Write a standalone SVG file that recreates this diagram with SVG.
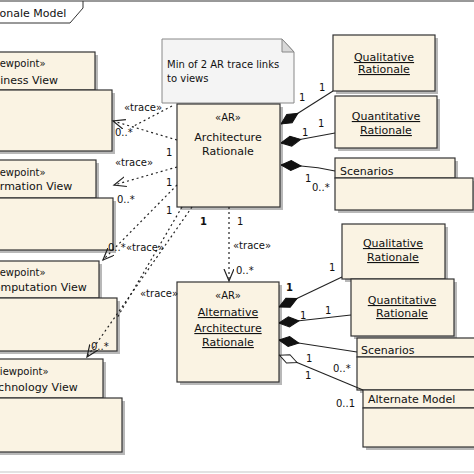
<svg xmlns="http://www.w3.org/2000/svg" width="474" height="474" viewBox="0 0 474 474">
<style>
.box{fill:#faf3e3;stroke:#333;stroke-width:1.2}
.sh{fill:#b8b8b8}
.t{font-family:"DejaVu Sans",sans-serif;fill:#111}
.st{font-size:10px}
.nm{font-size:11px}
.u{text-decoration:underline}
.c{text-anchor:middle}
.lb{font-family:"DejaVu Sans",sans-serif;font-size:10px;fill:#111}
.b{font-weight:bold}
.tr{fill:none;stroke:#222;stroke-width:1.2;stroke-dasharray:2 3}
.ln{fill:none;stroke:#222;stroke-width:1.1}
</style>
<defs>
<marker id="arr" markerUnits="userSpaceOnUse" markerWidth="14" markerHeight="12" refX="12" refY="5" orient="auto" viewBox="0 0 14 12">
<path d="M0,0 L12,5 L0,10" fill="none" stroke="#222" stroke-width="1.2"/>
</marker>
<marker id="dia" markerUnits="userSpaceOnUse" markerWidth="22" markerHeight="12" refX="0" refY="6" orient="auto" viewBox="0 0 22 12">
<path d="M0,6 L10,1 L20,6 L10,11 Z" fill="#111" stroke="#111"/>
</marker>
<marker id="odia" markerUnits="userSpaceOnUse" markerWidth="22" markerHeight="12" refX="0" refY="6" orient="auto" viewBox="0 0 22 12">
<path d="M0.5,6 L10,1.5 L19.5,6 L10,10.5 Z" fill="#fff" stroke="#222"/>
</marker>
</defs>
<rect width="474" height="474" fill="#fff"/>
<g id="frame">
<line x1="0" y1="1" x2="474" y2="1" stroke="#333"/>
<polyline points="0,23 70,23 83,8 83,1" fill="none" stroke="#333"/>
<text class="t nm" x="-22" y="17">Rationale Model</text>
<line x1="0" y1="472" x2="474" y2="472" stroke="#e2e2e2" stroke-width="2"/>
</g>
<g id="business-view">
<rect class="sh" x="-37" y="55" width="135" height="38"/>
<rect class="box" x="-40" y="52" width="135" height="38"/>
<rect class="sh" x="-37" y="93" width="152" height="61"/>
<rect class="box" x="-40" y="90" width="152" height="61"/>
<text class="t st" x="-15" y="67">«viewpoint»</text>
<text class="t nm" x="-20" y="84">Business View</text>
</g>
<g id="information-view">
<rect class="sh" x="-37" y="163" width="136" height="38"/>
<rect class="box" x="-40" y="160" width="136" height="38"/>
<rect class="sh" x="-37" y="201" width="153" height="52"/>
<rect class="box" x="-40" y="198" width="153" height="52"/>
<text class="t st" x="-15" y="176">«viewpoint»</text>
<text class="t nm" x="-21" y="190">Information View</text>
</g>
<g id="computation-view">
<rect class="sh" x="-37" y="264" width="139" height="37"/>
<rect class="box" x="-40" y="261" width="139" height="37"/>
<rect class="sh" x="-37" y="301" width="157" height="53"/>
<rect class="box" x="-40" y="298" width="157" height="53"/>
<text class="t st" x="-15" y="276">«viewpoint»</text>
<text class="t nm" x="-14" y="291">Computation View</text>
</g>
<g id="technology-view">
<rect class="sh" x="-37" y="362" width="143" height="39"/>
<rect class="box" x="-40" y="359" width="143" height="39"/>
<rect class="sh" x="-37" y="401" width="162" height="54"/>
<rect class="box" x="-40" y="398" width="162" height="54"/>
<text class="t st" x="-12" y="375">«viewpoint»</text>
<text class="t nm" x="-13.5" y="391">Technology View</text>
</g>
<g id="note">
<polygon points="162,39 282,39 294,52 294,103 162,103" fill="#f4f4f4" stroke="#888"/>
<polygon points="282,39 282,52 294,52" fill="#d8d8d8" stroke="#888"/>
<text class="t st" x="167" y="68">Min of 2 AR trace links</text>
<text class="t st" x="167" y="82">to views</text>
</g>
<g id="architecture-rationale">
<rect class="sh" x="180" y="107" width="103" height="103"/>
<rect class="box" x="177" y="104" width="103" height="103"/>
<text class="t st c" x="228" y="121">«AR»</text>
<text class="t nm c" x="228" y="141">Architecture</text>
<text class="t nm c" x="228" y="155">Rationale</text>
</g>
<g id="alternative-architecture-rationale">
<rect class="sh" x="180" y="285" width="102" height="100"/>
<rect class="box" x="177" y="282" width="102" height="100"/>
<text class="t st c" x="228" y="299">«AR»</text>
<text class="t nm c u" x="228" y="316">Alternative</text>
<text class="t nm c u" x="228" y="332">Architecture</text>
<text class="t nm c u" x="228" y="346">Rationale</text>
</g>
<g id="qualitative-rationale-1">
<rect class="sh" x="336" y="38" width="102" height="56"/>
<rect class="box" x="333" y="35" width="102" height="56"/>
<text class="t nm c u" x="384" y="61">Qualitative</text>
<text class="t nm c u" x="384" y="73">Rationale</text>
</g>
<g id="quantitative-rationale-1">
<rect class="sh" x="338" y="99" width="102" height="52"/>
<rect class="box" x="335" y="96" width="102" height="52"/>
<text class="t nm c u" x="386" y="120">Quantitative</text>
<text class="t nm c u" x="386" y="134">Rationale</text>
</g>
<g id="scenarios-1">
<rect class="sh" x="338" y="161" width="120" height="20"/>
<rect class="box" x="335" y="158" width="120" height="20"/>
<rect class="sh" x="338" y="181" width="138" height="32"/>
<rect class="box" x="335" y="178" width="138" height="32"/>
<text class="t nm" x="340" y="175">Scenarios</text>
</g>
<g id="qualitative-rationale-2">
<rect class="sh" x="345" y="227" width="103" height="55"/>
<rect class="box" x="342" y="224" width="103" height="55"/>
<text class="t nm c u" x="393" y="247">Qualitative</text>
<text class="t nm c u" x="393" y="261">Rationale</text>
</g>
<g id="quantitative-rationale-2">
<rect class="sh" x="354" y="282" width="103" height="57"/>
<rect class="box" x="351" y="279" width="103" height="57"/>
<text class="t nm c u" x="402" y="304">Quantitative</text>
<text class="t nm c u" x="402" y="317">Rationale</text>
</g>
<g id="scenarios-2">
<rect class="sh" x="360" y="341" width="130" height="52"/>
<rect class="box" x="357" y="338" width="130" height="19"/>
<rect class="box" x="357" y="357" width="130" height="33"/>
<text class="t nm" x="361" y="354">Scenarios</text>
</g>
<g id="alternate-model">
<rect class="sh" x="366" y="393" width="125" height="57"/>
<rect class="box" x="363" y="390" width="125" height="18"/>
<rect class="box" x="363" y="408" width="125" height="39"/>
<text class="t nm" x="368" y="403">Alternate Model</text>
</g>
<g id="connectors">
<path class="tr" d="M177,140 L113,121" marker-end="url(#arr)"/>
<path class="tr" d="M172,106 L132,127"/>
<path class="tr" d="M177,167 L114,185" marker-end="url(#arr)"/>
<path class="tr" d="M177,185 L103,260" marker-end="url(#arr)"/>
<path class="tr" d="M182,207 L117,318"/>
<path class="tr" d="M192,207 L87,357" marker-end="url(#arr)"/>
<path class="tr" d="M229,207 L229,281" marker-end="url(#arr)"/>
<path class="ln" d="M281,124 L333,91" marker-start="url(#dia)"/>
<path class="ln" d="M281,143 L335,133" marker-start="url(#dia)"/>
<path class="ln" d="M281,165 L301,166 Q318,167 335,171" marker-start="url(#dia)"/>
<path class="ln" d="M279,307 L342,277" marker-start="url(#dia)"/>
<path class="ln" d="M279,323 L351,315" marker-start="url(#dia)"/>
<path class="ln" d="M279,340 L357,352" marker-start="url(#dia)"/>
<path class="ln" d="M279,355 L363,390" marker-start="url(#odia)"/>
<text class="lb c" x="143" y="111">«trace»</text>
<text class="lb" x="115" y="136">0..*</text>
<text class="lb" x="166" y="156">1</text>
<text class="lb c" x="134" y="166">«trace»</text>
<text class="lb" x="117" y="203">0..*</text>
<text class="lb" x="166" y="186">1</text>
<text class="lb" x="126" y="251">«trace»</text>
<text class="lb" x="108" y="251">0..*</text>
<text class="lb" x="166" y="214">1</text>
<text class="lb" x="140" y="297">«trace»</text>
<text class="lb" x="91" y="350">0..*</text>
<text class="lb b" x="200" y="225">1</text>
<text class="lb" x="237" y="225">1</text>
<text class="lb" x="233" y="249">«trace»</text>
<text class="lb" x="236" y="274">0..*</text>
<text class="lb" x="319" y="91">1</text>
<text class="lb" x="299" y="101">1</text>
<text class="lb" x="318" y="127">1</text>
<text class="lb" x="302" y="136">1</text>
<text class="lb" x="305" y="182">1</text>
<text class="lb" x="312" y="191">0..*</text>
<text class="lb b" x="286" y="291">1</text>
<text class="lb" x="329" y="271">1</text>
<text class="lb" x="300" y="319">1</text>
<text class="lb" x="325" y="314">1</text>
<text class="lb" x="306" y="362">1</text>
<text class="lb" x="333" y="372">0..*</text>
<text class="lb" x="305" y="379">1</text>
<text class="lb" x="336" y="407">0..1</text>
</g>
</svg>
